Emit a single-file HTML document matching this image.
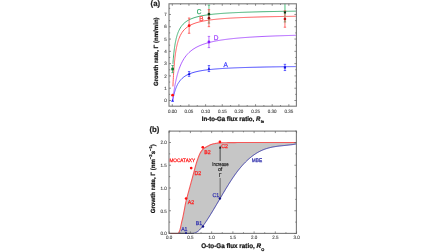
<!DOCTYPE html>
<html><head><meta charset="utf-8"><style>
html,body{margin:0;padding:0;background:#fff;width:448px;height:252px;overflow:hidden}
svg{display:block;font-family:"Liberation Sans",Arial,sans-serif;text-rendering:geometricPrecision}
</style></head><body>
<svg width="448" height="252" viewBox="0 0 448 252">
<rect width="448" height="252" fill="#fff"/>
<defs><clipPath id="ca"><rect x="169.0" y="3.8" width="127.39999999999998" height="102.4"/></clipPath><clipPath id="cb"><rect x="169.0" y="131.1" width="127.39999999999998" height="102.30000000000001"/></clipPath></defs>
<g clip-path="url(#ca)">
<polyline points="172.60,100.50 172.71,100.01 172.82,99.48 172.94,98.95 173.05,98.42 173.16,97.90 173.27,97.39 173.38,96.88 173.50,96.39 173.61,95.91 173.72,95.43 173.83,94.97 173.94,94.52 174.06,94.08 174.17,93.65 174.28,93.23 174.39,92.82 174.50,92.42 174.62,92.03 174.73,91.65 174.84,91.28 174.95,90.92 175.06,90.57 175.18,90.22 175.29,89.89 175.40,89.56 175.51,89.24 175.62,88.92 175.74,88.62 175.85,88.32 175.96,88.03 176.07,87.74 176.18,87.46 176.30,87.19 176.41,86.92 176.52,86.66 176.63,86.40 176.74,86.15 176.86,85.91 176.97,85.67 177.08,85.44 177.19,85.21 177.30,84.98 177.42,84.76 177.53,84.55 177.64,84.33 177.75,84.13 177.86,83.92 177.98,83.73 178.09,83.53 178.20,83.34 178.31,83.15 178.42,82.97 178.54,82.79 178.65,82.61 178.76,82.44 178.87,82.27 178.98,82.10 179.10,81.93 179.21,81.77 179.21,81.77 180.19,80.47 181.18,79.35 182.16,78.37 183.15,77.52 184.14,76.76 185.12,76.09 186.11,75.49 187.09,74.95 188.08,74.46 189.06,74.02 190.05,73.62 191.04,73.25 192.02,72.91 193.01,72.59 193.99,72.31 194.98,72.04 195.96,71.79 196.95,71.56 197.94,71.34 198.92,71.14 199.91,70.95 200.89,70.77 201.88,70.60 202.86,70.44 203.85,70.29 204.83,70.15 205.82,70.02 206.81,69.89 207.79,69.77 208.78,69.66 209.76,69.55 210.75,69.44 211.73,69.35 212.72,69.25 213.71,69.16 214.69,69.07 215.68,68.99 216.66,68.91 217.65,68.83 218.63,68.76 219.62,68.69 220.61,68.62 221.59,68.56 222.58,68.50 223.56,68.44 224.55,68.38 225.53,68.32 226.52,68.27 227.50,68.21 228.49,68.16 229.48,68.12 230.46,68.07 231.45,68.02 232.43,67.98 233.42,67.93 234.40,67.89 235.39,67.85 236.38,67.81 237.36,67.78 238.35,67.74 239.33,67.70 240.32,67.67 241.30,67.63 242.29,67.60 243.28,67.57 244.26,67.54 245.25,67.51 246.23,67.48 247.22,67.45 248.20,67.42 249.19,67.39 250.17,67.37 251.16,67.34 252.15,67.31 253.13,67.29 254.12,67.26 255.10,67.24 256.09,67.22 257.07,67.20 258.06,67.17 259.05,67.15 260.03,67.13 261.02,67.11 262.00,67.09 262.99,67.07 263.97,67.05 264.96,67.03 265.94,67.01 266.93,66.99 267.92,66.98 268.90,66.96 269.89,66.94 270.87,66.93 271.86,66.91 272.84,66.89 273.83,66.88 274.82,66.86 275.80,66.85 276.79,66.83 277.77,66.82 278.76,66.80 279.74,66.79 280.73,66.77 281.72,66.76 282.70,66.75 283.69,66.73 284.67,66.72 285.66,66.71 286.64,66.70 287.63,66.68 288.61,66.67 289.60,66.66 290.59,66.65 291.57,66.64 292.56,66.63 293.54,66.61 294.53,66.60 295.51,66.59 295.90,66.58" fill="none" stroke="#3c3cff" stroke-width="0.9"/>
<polyline points="172.60,100.50 172.71,99.82 172.82,99.06 172.94,98.29 173.05,97.50 173.16,96.72 173.27,95.94 173.38,95.17 173.50,94.41 173.61,93.65 173.72,92.91 173.83,92.18 173.94,91.45 174.06,90.75 174.17,90.05 174.28,89.36 174.39,88.69 174.50,88.03 174.62,87.38 174.73,86.74 174.84,86.11 174.95,85.50 175.06,84.89 175.18,84.30 175.29,83.72 175.40,83.14 175.51,82.58 175.62,82.03 175.74,81.49 175.85,80.96 175.96,80.44 176.07,79.93 176.18,79.42 176.30,78.93 176.41,78.45 176.52,77.97 176.63,77.50 176.74,77.04 176.86,76.59 176.97,76.15 177.08,75.71 177.19,75.29 177.30,74.87 177.42,74.45 177.53,74.05 177.64,73.65 177.75,73.25 177.86,72.87 177.98,72.49 178.09,72.12 178.20,71.75 178.31,71.39 178.42,71.03 178.54,70.68 178.65,70.34 178.76,70.00 178.87,69.67 178.98,69.34 179.10,69.02 179.21,68.70 179.21,68.70 180.19,66.11 181.18,63.84 182.16,61.83 183.15,60.05 184.14,58.45 185.12,57.02 186.11,55.73 187.09,54.56 188.08,53.49 189.06,52.52 190.05,51.62 191.04,50.80 192.02,50.04 193.01,49.34 193.99,48.69 194.98,48.08 195.96,47.51 196.95,46.99 197.94,46.49 198.92,46.03 199.91,45.59 200.89,45.18 201.88,44.79 202.86,44.43 203.85,44.08 204.83,43.75 205.82,43.44 206.81,43.14 207.79,42.86 208.78,42.59 209.76,42.34 210.75,42.10 211.73,41.86 212.72,41.64 213.71,41.43 214.69,41.23 215.68,41.03 216.66,40.84 217.65,40.66 218.63,40.49 219.62,40.32 220.61,40.16 221.59,40.01 222.58,39.86 223.56,39.72 224.55,39.58 225.53,39.45 226.52,39.32 227.50,39.19 228.49,39.07 229.48,38.96 230.46,38.85 231.45,38.74 232.43,38.63 233.42,38.53 234.40,38.43 235.39,38.33 236.38,38.24 237.36,38.15 238.35,38.06 239.33,37.97 240.32,37.89 241.30,37.81 242.29,37.73 243.28,37.65 244.26,37.58 245.25,37.51 246.23,37.44 247.22,37.37 248.20,37.30 249.19,37.23 250.17,37.17 251.16,37.11 252.15,37.05 253.13,36.99 254.12,36.93 255.10,36.87 256.09,36.82 257.07,36.76 258.06,36.71 259.05,36.66 260.03,36.61 261.02,36.56 262.00,36.51 262.99,36.46 263.97,36.41 264.96,36.37 265.94,36.32 266.93,36.28 267.92,36.24 268.90,36.20 269.89,36.16 270.87,36.11 271.86,36.08 272.84,36.04 273.83,36.00 274.82,35.96 275.80,35.92 276.79,35.89 277.77,35.85 278.76,35.82 279.74,35.79 280.73,35.75 281.72,35.72 282.70,35.69 283.69,35.66 284.67,35.62 285.66,35.59 286.64,35.56 287.63,35.54 288.61,35.51 289.60,35.48 290.59,35.45 291.57,35.42 292.56,35.40 293.54,35.37 294.53,35.34 295.51,35.32 295.90,35.29" fill="none" stroke="#a64dff" stroke-width="0.9"/>
<polyline points="172.93,86.42 173.04,83.98 173.14,81.70 173.25,79.57 173.36,77.57 173.46,75.68 173.57,73.91 173.68,72.24 173.78,70.65 173.89,69.16 173.99,67.74 174.10,66.39 174.21,65.11 174.31,63.89 174.42,62.73 174.53,61.62 174.63,60.56 174.74,59.55 174.85,58.58 174.95,57.65 175.06,56.76 175.16,55.91 175.27,55.09 175.38,54.30 175.48,53.55 175.59,52.82 175.70,52.11 175.80,51.44 175.91,50.78 176.02,50.15 176.12,49.54 176.23,48.96 176.34,48.39 176.44,47.84 176.55,47.30 176.65,46.79 176.76,46.29 176.87,45.80 176.97,45.33 177.08,44.88 177.19,44.43 177.29,44.00 177.40,43.58 177.51,43.18 177.61,42.78 177.72,42.40 177.82,42.02 177.93,41.66 178.04,41.31 178.14,40.96 178.25,40.62 178.36,40.30 178.46,39.98 178.57,39.66 178.68,39.36 178.78,39.06 178.89,38.77 179.00,38.49 179.10,38.21 179.21,37.94 179.21,37.94 180.19,35.70 181.18,33.85 182.16,32.30 183.15,30.98 184.14,29.84 185.12,28.85 186.11,27.98 187.09,27.21 188.08,26.52 189.06,25.91 190.05,25.35 191.04,24.85 192.02,24.39 193.01,23.97 193.99,23.58 194.98,23.23 195.96,22.90 196.95,22.59 197.94,22.31 198.92,22.05 199.91,21.80 200.89,21.57 201.88,21.35 202.86,21.15 203.85,20.96 204.83,20.78 205.82,20.61 206.81,20.44 207.79,20.29 208.78,20.15 209.76,20.01 210.75,19.87 211.73,19.75 212.72,19.63 213.71,19.51 214.69,19.41 215.68,19.30 216.66,19.20 217.65,19.10 218.63,19.01 219.62,18.92 220.61,18.84 221.59,18.76 222.58,18.68 223.56,18.60 224.55,18.53 225.53,18.46 226.52,18.39 227.50,18.32 228.49,18.26 229.48,18.20 230.46,18.14 231.45,18.08 232.43,18.03 233.42,17.97 234.40,17.92 235.39,17.87 236.38,17.82 237.36,17.77 238.35,17.73 239.33,17.68 240.32,17.64 241.30,17.59 242.29,17.55 243.28,17.51 244.26,17.47 245.25,17.43 246.23,17.40 247.22,17.36 248.20,17.32 249.19,17.29 250.17,17.26 251.16,17.22 252.15,17.19 253.13,17.16 254.12,17.13 255.10,17.10 256.09,17.07 257.07,17.04 258.06,17.01 259.05,16.99 260.03,16.96 261.02,16.93 262.00,16.91 262.99,16.88 263.97,16.86 264.96,16.83 265.94,16.81 266.93,16.79 267.92,16.77 268.90,16.74 269.89,16.72 270.87,16.70 271.86,16.68 272.84,16.66 273.83,16.64 274.82,16.62 275.80,16.60 276.79,16.58 277.77,16.56 278.76,16.54 279.74,16.53 280.73,16.51 281.72,16.49 282.70,16.47 283.69,16.46 284.67,16.44 285.66,16.42 286.64,16.41 287.63,16.39 288.61,16.38 289.60,16.36 290.59,16.35 291.57,16.33 292.56,16.32 293.54,16.30 294.53,16.29 295.51,16.28 295.90,16.26" fill="none" stroke="#ff4848" stroke-width="0.9"/>
<polyline points="172.93,63.82 173.04,62.33 173.14,60.92 173.25,59.58 173.36,58.31 173.46,57.10 173.57,55.96 173.68,54.86 173.78,53.82 173.89,52.82 173.99,51.87 174.10,50.96 174.21,50.08 174.31,49.24 174.42,48.44 174.53,47.67 174.63,46.93 174.74,46.21 174.85,45.53 174.95,44.87 175.06,44.23 175.16,43.61 175.27,43.02 175.38,42.45 175.48,41.89 175.59,41.36 175.70,40.84 175.80,40.34 175.91,39.85 176.02,39.38 176.12,38.93 176.23,38.48 176.34,38.06 176.44,37.64 176.55,37.23 176.65,36.84 176.76,36.46 176.87,36.09 176.97,35.73 177.08,35.37 177.19,35.03 177.29,34.70 177.40,34.37 177.51,34.06 177.61,33.75 177.72,33.45 177.82,33.15 177.93,32.87 178.04,32.59 178.14,32.31 178.25,32.05 178.36,31.79 178.46,31.53 178.57,31.28 178.68,31.04 178.78,30.80 178.89,30.57 179.00,30.34 179.10,30.12 179.21,29.90 179.21,29.90 180.19,28.09 181.18,26.57 182.16,25.28 183.15,24.17 184.14,23.21 185.12,22.36 186.11,21.62 187.09,20.95 188.08,20.36 189.06,19.82 190.05,19.34 191.04,18.90 192.02,18.50 193.01,18.13 193.99,17.79 194.98,17.47 195.96,17.18 196.95,16.91 197.94,16.66 198.92,16.42 199.91,16.20 200.89,16.00 201.88,15.80 202.86,15.62 203.85,15.45 204.83,15.28 205.82,15.13 206.81,14.98 207.79,14.85 208.78,14.71 209.76,14.59 210.75,14.47 211.73,14.36 212.72,14.25 213.71,14.14 214.69,14.04 215.68,13.95 216.66,13.86 217.65,13.77 218.63,13.69 219.62,13.60 220.61,13.53 221.59,13.45 222.58,13.38 223.56,13.31 224.55,13.24 225.53,13.18 226.52,13.12 227.50,13.06 228.49,13.00 229.48,12.94 230.46,12.89 231.45,12.84 232.43,12.78 233.42,12.74 234.40,12.69 235.39,12.64 236.38,12.60 237.36,12.55 238.35,12.51 239.33,12.47 240.32,12.43 241.30,12.39 242.29,12.35 243.28,12.31 244.26,12.28 245.25,12.24 246.23,12.21 247.22,12.17 248.20,12.14 249.19,12.11 250.17,12.08 251.16,12.05 252.15,12.02 253.13,11.99 254.12,11.96 255.10,11.93 256.09,11.91 257.07,11.88 258.06,11.85 259.05,11.83 260.03,11.80 261.02,11.78 262.00,11.76 262.99,11.73 263.97,11.71 264.96,11.69 265.94,11.67 266.93,11.64 267.92,11.62 268.90,11.60 269.89,11.58 270.87,11.56 271.86,11.54 272.84,11.53 273.83,11.51 274.82,11.49 275.80,11.47 276.79,11.45 277.77,11.44 278.76,11.42 279.74,11.40 280.73,11.39 281.72,11.37 282.70,11.35 283.69,11.34 284.67,11.32 285.66,11.31 286.64,11.29 287.63,11.28 288.61,11.27 289.60,11.25 290.59,11.24 291.57,11.22 292.56,11.21 293.54,11.20 294.53,11.18 295.51,11.17 295.90,11.16" fill="none" stroke="#2fa866" stroke-width="0.9"/>
<line x1="189.12" y1="71.55" x2="189.12" y2="76.35" stroke="#3c3cff" stroke-width="0.8"/>
<line x1="187.92" y1="71.55" x2="190.32" y2="71.55" stroke="#3c3cff" stroke-width="0.8"/>
<line x1="187.92" y1="76.35" x2="190.32" y2="76.35" stroke="#3c3cff" stroke-width="0.8"/>
<line x1="208.94" y1="65.55" x2="208.94" y2="71.55" stroke="#3c3cff" stroke-width="0.8"/>
<line x1="207.74" y1="65.55" x2="210.14" y2="65.55" stroke="#3c3cff" stroke-width="0.8"/>
<line x1="207.74" y1="71.55" x2="210.14" y2="71.55" stroke="#3c3cff" stroke-width="0.8"/>
<line x1="284.94" y1="64.34" x2="284.94" y2="70.54" stroke="#3c3cff" stroke-width="0.8"/>
<line x1="283.74" y1="64.34" x2="286.14" y2="64.34" stroke="#3c3cff" stroke-width="0.8"/>
<line x1="283.74" y1="70.54" x2="286.14" y2="70.54" stroke="#3c3cff" stroke-width="0.8"/>
<line x1="208.94" y1="36.40" x2="208.94" y2="47.60" stroke="#a64dff" stroke-width="0.8"/>
<line x1="207.74" y1="36.40" x2="210.14" y2="36.40" stroke="#a64dff" stroke-width="0.8"/>
<line x1="207.74" y1="47.60" x2="210.14" y2="47.60" stroke="#a64dff" stroke-width="0.8"/>
<line x1="172.60" y1="65.44" x2="172.60" y2="72.64" stroke="#2fa866" stroke-width="0.8"/>
<line x1="171.40" y1="65.44" x2="173.80" y2="65.44" stroke="#2fa866" stroke-width="0.8"/>
<line x1="171.40" y1="72.64" x2="173.80" y2="72.64" stroke="#2fa866" stroke-width="0.8"/>
<line x1="208.94" y1="5.10" x2="208.94" y2="23.10" stroke="#7fcf9f" stroke-width="1.2"/>
<line x1="207.74" y1="5.10" x2="210.14" y2="5.10" stroke="#2fa866" stroke-width="0.8"/>
<line x1="207.74" y1="23.10" x2="210.14" y2="23.10" stroke="#2fa866" stroke-width="0.8"/>
<line x1="284.94" y1="2.78" x2="284.94" y2="21.98" stroke="#8fd8ae" stroke-width="1.6"/>
<line x1="283.74" y1="2.78" x2="286.14" y2="2.78" stroke="#2fa866" stroke-width="0.8"/>
<line x1="283.74" y1="21.98" x2="286.14" y2="21.98" stroke="#2fa866" stroke-width="0.8"/>
<line x1="189.12" y1="18.05" x2="189.12" y2="33.25" stroke="#ff4848" stroke-width="0.8"/>
<line x1="187.92" y1="18.05" x2="190.32" y2="18.05" stroke="#ff4848" stroke-width="0.8"/>
<line x1="187.92" y1="33.25" x2="190.32" y2="33.25" stroke="#ff4848" stroke-width="0.8"/>
<line x1="208.94" y1="9.66" x2="208.94" y2="26.66" stroke="#ff4848" stroke-width="0.8"/>
<line x1="207.74" y1="9.66" x2="210.14" y2="9.66" stroke="#ff4848" stroke-width="0.8"/>
<line x1="207.74" y1="26.66" x2="210.14" y2="26.66" stroke="#ff4848" stroke-width="0.8"/>
<line x1="284.94" y1="10.82" x2="284.94" y2="27.22" stroke="#ff4848" stroke-width="0.8"/>
<line x1="283.74" y1="10.82" x2="286.14" y2="10.82" stroke="#ff4848" stroke-width="0.8"/>
<line x1="283.74" y1="27.22" x2="286.14" y2="27.22" stroke="#ff4848" stroke-width="0.8"/>
<polygon points="172.60,99.00 171.10,101.70 174.10,101.70" fill="#1a1aff"/>
<polygon points="189.12,72.55 187.72,75.07 190.52,75.07" fill="#1010e0"/>
<polygon points="208.94,67.15 207.54,69.67 210.34,69.67" fill="#1010e0"/>
<rect x="283.84" y="66.34" width="2.20" height="2.20" fill="#1010e0"/>
<circle cx="208.94" cy="42.00" r="1.4" fill="#8a1aff"/>
<circle cx="172.60" cy="95.22" r="1.4" fill="#ff1010"/>
<circle cx="189.12" cy="25.65" r="1.4" fill="#ff1010"/>
<circle cx="208.94" cy="18.16" r="1.3" fill="#8a1010"/>
<circle cx="284.94" cy="19.02" r="1.3" fill="#c01010"/>
<rect x="171.30" y="67.74" width="2.60" height="2.60" fill="#0f7a30"/>
<rect x="207.74" y="12.90" width="2.40" height="2.40" fill="#0b3d18"/>
<rect x="283.84" y="11.28" width="2.20" height="2.20" fill="#0b3d18"/>
</g>
<rect x="169.0" y="3.8" width="127.39999999999998" height="102.4" fill="none" stroke="#7a7a7a" stroke-width="1.1"/>
<line x1="172.30" y1="106.2" x2="172.30" y2="104.20" stroke="#606060" stroke-width="0.7"/>
<line x1="172.30" y1="3.8" x2="172.30" y2="5.80" stroke="#606060" stroke-width="0.7"/>
<line x1="180.62" y1="106.2" x2="180.62" y2="105.00" stroke="#606060" stroke-width="0.7"/>
<line x1="180.62" y1="3.8" x2="180.62" y2="5.00" stroke="#606060" stroke-width="0.7"/>
<line x1="188.95" y1="106.2" x2="188.95" y2="104.20" stroke="#606060" stroke-width="0.7"/>
<line x1="188.95" y1="3.8" x2="188.95" y2="5.80" stroke="#606060" stroke-width="0.7"/>
<line x1="197.28" y1="106.2" x2="197.28" y2="105.00" stroke="#606060" stroke-width="0.7"/>
<line x1="197.28" y1="3.8" x2="197.28" y2="5.00" stroke="#606060" stroke-width="0.7"/>
<line x1="205.60" y1="106.2" x2="205.60" y2="104.20" stroke="#606060" stroke-width="0.7"/>
<line x1="205.60" y1="3.8" x2="205.60" y2="5.80" stroke="#606060" stroke-width="0.7"/>
<line x1="213.93" y1="106.2" x2="213.93" y2="105.00" stroke="#606060" stroke-width="0.7"/>
<line x1="213.93" y1="3.8" x2="213.93" y2="5.00" stroke="#606060" stroke-width="0.7"/>
<line x1="222.25" y1="106.2" x2="222.25" y2="104.20" stroke="#606060" stroke-width="0.7"/>
<line x1="222.25" y1="3.8" x2="222.25" y2="5.80" stroke="#606060" stroke-width="0.7"/>
<line x1="230.58" y1="106.2" x2="230.58" y2="105.00" stroke="#606060" stroke-width="0.7"/>
<line x1="230.58" y1="3.8" x2="230.58" y2="5.00" stroke="#606060" stroke-width="0.7"/>
<line x1="238.90" y1="106.2" x2="238.90" y2="104.20" stroke="#606060" stroke-width="0.7"/>
<line x1="238.90" y1="3.8" x2="238.90" y2="5.80" stroke="#606060" stroke-width="0.7"/>
<line x1="247.23" y1="106.2" x2="247.23" y2="105.00" stroke="#606060" stroke-width="0.7"/>
<line x1="247.23" y1="3.8" x2="247.23" y2="5.00" stroke="#606060" stroke-width="0.7"/>
<line x1="255.55" y1="106.2" x2="255.55" y2="104.20" stroke="#606060" stroke-width="0.7"/>
<line x1="255.55" y1="3.8" x2="255.55" y2="5.80" stroke="#606060" stroke-width="0.7"/>
<line x1="263.88" y1="106.2" x2="263.88" y2="105.00" stroke="#606060" stroke-width="0.7"/>
<line x1="263.88" y1="3.8" x2="263.88" y2="5.00" stroke="#606060" stroke-width="0.7"/>
<line x1="272.20" y1="106.2" x2="272.20" y2="104.20" stroke="#606060" stroke-width="0.7"/>
<line x1="272.20" y1="3.8" x2="272.20" y2="5.80" stroke="#606060" stroke-width="0.7"/>
<line x1="280.53" y1="106.2" x2="280.53" y2="105.00" stroke="#606060" stroke-width="0.7"/>
<line x1="280.53" y1="3.8" x2="280.53" y2="5.00" stroke="#606060" stroke-width="0.7"/>
<line x1="288.85" y1="106.2" x2="288.85" y2="104.20" stroke="#606060" stroke-width="0.7"/>
<line x1="288.85" y1="3.8" x2="288.85" y2="5.80" stroke="#606060" stroke-width="0.7"/>
<line x1="169.0" y1="100.50" x2="171.00" y2="100.50" stroke="#606060" stroke-width="0.7"/>
<line x1="296.4" y1="100.50" x2="294.40" y2="100.50" stroke="#606060" stroke-width="0.7"/>
<line x1="169.0" y1="94.36" x2="170.20" y2="94.36" stroke="#606060" stroke-width="0.7"/>
<line x1="296.4" y1="94.36" x2="295.20" y2="94.36" stroke="#606060" stroke-width="0.7"/>
<line x1="169.0" y1="88.21" x2="171.00" y2="88.21" stroke="#606060" stroke-width="0.7"/>
<line x1="296.4" y1="88.21" x2="294.40" y2="88.21" stroke="#606060" stroke-width="0.7"/>
<line x1="169.0" y1="82.06" x2="170.20" y2="82.06" stroke="#606060" stroke-width="0.7"/>
<line x1="296.4" y1="82.06" x2="295.20" y2="82.06" stroke="#606060" stroke-width="0.7"/>
<line x1="169.0" y1="75.92" x2="171.00" y2="75.92" stroke="#606060" stroke-width="0.7"/>
<line x1="296.4" y1="75.92" x2="294.40" y2="75.92" stroke="#606060" stroke-width="0.7"/>
<line x1="169.0" y1="69.78" x2="170.20" y2="69.78" stroke="#606060" stroke-width="0.7"/>
<line x1="296.4" y1="69.78" x2="295.20" y2="69.78" stroke="#606060" stroke-width="0.7"/>
<line x1="169.0" y1="63.63" x2="171.00" y2="63.63" stroke="#606060" stroke-width="0.7"/>
<line x1="296.4" y1="63.63" x2="294.40" y2="63.63" stroke="#606060" stroke-width="0.7"/>
<line x1="169.0" y1="57.48" x2="170.20" y2="57.48" stroke="#606060" stroke-width="0.7"/>
<line x1="296.4" y1="57.48" x2="295.20" y2="57.48" stroke="#606060" stroke-width="0.7"/>
<line x1="169.0" y1="51.34" x2="171.00" y2="51.34" stroke="#606060" stroke-width="0.7"/>
<line x1="296.4" y1="51.34" x2="294.40" y2="51.34" stroke="#606060" stroke-width="0.7"/>
<line x1="169.0" y1="45.20" x2="170.20" y2="45.20" stroke="#606060" stroke-width="0.7"/>
<line x1="296.4" y1="45.20" x2="295.20" y2="45.20" stroke="#606060" stroke-width="0.7"/>
<line x1="169.0" y1="39.05" x2="171.00" y2="39.05" stroke="#606060" stroke-width="0.7"/>
<line x1="296.4" y1="39.05" x2="294.40" y2="39.05" stroke="#606060" stroke-width="0.7"/>
<line x1="169.0" y1="32.91" x2="170.20" y2="32.91" stroke="#606060" stroke-width="0.7"/>
<line x1="296.4" y1="32.91" x2="295.20" y2="32.91" stroke="#606060" stroke-width="0.7"/>
<line x1="169.0" y1="26.76" x2="171.00" y2="26.76" stroke="#606060" stroke-width="0.7"/>
<line x1="296.4" y1="26.76" x2="294.40" y2="26.76" stroke="#606060" stroke-width="0.7"/>
<line x1="169.0" y1="20.62" x2="170.20" y2="20.62" stroke="#606060" stroke-width="0.7"/>
<line x1="296.4" y1="20.62" x2="295.20" y2="20.62" stroke="#606060" stroke-width="0.7"/>
<line x1="169.0" y1="14.47" x2="171.00" y2="14.47" stroke="#606060" stroke-width="0.7"/>
<line x1="296.4" y1="14.47" x2="294.40" y2="14.47" stroke="#606060" stroke-width="0.7"/>
<line x1="169.0" y1="8.33" x2="170.20" y2="8.33" stroke="#606060" stroke-width="0.7"/>
<line x1="296.4" y1="8.33" x2="295.20" y2="8.33" stroke="#606060" stroke-width="0.7"/>
<text transform="translate(172.30 112.9) scale(1 1.06)" x="0" y="0" font-size="4.5" text-anchor="middle" fill="#444" stroke="#444" stroke-width="0.1">0.00</text>
<text transform="translate(188.95 112.9) scale(1 1.06)" x="0" y="0" font-size="4.5" text-anchor="middle" fill="#444" stroke="#444" stroke-width="0.1">0.05</text>
<text transform="translate(205.60 112.9) scale(1 1.06)" x="0" y="0" font-size="4.5" text-anchor="middle" fill="#444" stroke="#444" stroke-width="0.1">0.10</text>
<text transform="translate(222.25 112.9) scale(1 1.06)" x="0" y="0" font-size="4.5" text-anchor="middle" fill="#444" stroke="#444" stroke-width="0.1">0.15</text>
<text transform="translate(238.90 112.9) scale(1 1.06)" x="0" y="0" font-size="4.5" text-anchor="middle" fill="#444" stroke="#444" stroke-width="0.1">0.20</text>
<text transform="translate(255.55 112.9) scale(1 1.06)" x="0" y="0" font-size="4.5" text-anchor="middle" fill="#444" stroke="#444" stroke-width="0.1">0.25</text>
<text transform="translate(272.20 112.9) scale(1 1.06)" x="0" y="0" font-size="4.5" text-anchor="middle" fill="#444" stroke="#444" stroke-width="0.1">0.30</text>
<text transform="translate(288.85 112.9) scale(1 1.06)" x="0" y="0" font-size="4.5" text-anchor="middle" fill="#444" stroke="#444" stroke-width="0.1">0.35</text>
<text transform="translate(165.6 102.20) scale(1 1.06)" x="0" y="0" font-size="4.5" text-anchor="middle" fill="#444" stroke="#444" stroke-width="0.1">0</text>
<text transform="translate(165.6 89.91) scale(1 1.06)" x="0" y="0" font-size="4.5" text-anchor="middle" fill="#444" stroke="#444" stroke-width="0.1">1</text>
<text transform="translate(165.6 77.62) scale(1 1.06)" x="0" y="0" font-size="4.5" text-anchor="middle" fill="#444" stroke="#444" stroke-width="0.1">2</text>
<text transform="translate(165.6 65.33) scale(1 1.06)" x="0" y="0" font-size="4.5" text-anchor="middle" fill="#444" stroke="#444" stroke-width="0.1">3</text>
<text transform="translate(165.6 53.04) scale(1 1.06)" x="0" y="0" font-size="4.5" text-anchor="middle" fill="#444" stroke="#444" stroke-width="0.1">4</text>
<text transform="translate(165.6 40.75) scale(1 1.06)" x="0" y="0" font-size="4.5" text-anchor="middle" fill="#444" stroke="#444" stroke-width="0.1">5</text>
<text transform="translate(165.6 28.46) scale(1 1.06)" x="0" y="0" font-size="4.5" text-anchor="middle" fill="#444" stroke="#444" stroke-width="0.1">6</text>
<text transform="translate(165.6 16.17) scale(1 1.06)" x="0" y="0" font-size="4.5" text-anchor="middle" fill="#444" stroke="#444" stroke-width="0.1">7</text>
<text transform="translate(199 14) scale(1 1.06)" x="0" y="0" font-size="6.5" text-anchor="middle" fill="#2fa866" stroke="#2fa866" stroke-width="0.24">C</text>
<text transform="translate(201.3 20.5) scale(1 1.06)" x="0" y="0" font-size="6.5" text-anchor="middle" fill="#ff4848" stroke="#ff4848" stroke-width="0.24">B</text>
<text transform="translate(216.1 39.6) scale(1 1.06)" x="0" y="0" font-size="6.5" text-anchor="middle" fill="#a64dff" stroke="#a64dff" stroke-width="0.24">D</text>
<text transform="translate(225.6 67.3) scale(1 1.06)" x="0" y="0" font-size="6.5" text-anchor="middle" fill="#3c3cff" stroke="#3c3cff" stroke-width="0.24">A</text>
<text  x="150.6" y="6.4" font-size="7.8" font-weight="bold" fill="#222" stroke="#222" stroke-width="0.2">(a)</text>
<text transform="translate(201.8 121) scale(1 1.06)" x="0" y="0" font-size="6.1" font-weight="bold" fill="#111" stroke="#111" stroke-width="0.22">In-to-Ga flux ratio, <tspan font-style="italic">R</tspan><tspan font-size="3.9" dy="1.9" dx="0.3">In</tspan></text>
<text transform="translate(157.6,51.7) rotate(-90)" font-size="6.1" font-weight="bold" text-anchor="middle" fill="#111" stroke="#111" stroke-width="0.22">Growth rate, Γ (nm/min)</text>
<g clip-path="url(#cb)">
<polygon points="169.20,233.50 169.65,233.54 170.23,233.64 170.92,233.79 171.70,233.96 172.54,234.12 173.42,234.27 174.31,234.37 175.19,234.41 176.04,234.36 176.82,234.21 177.52,233.93 178.11,233.50 178.62,232.90 179.06,232.15 179.46,231.27 179.82,230.27 180.14,229.20 180.43,228.06 180.70,226.88 180.96,225.68 181.20,224.50 181.44,223.34 181.68,222.24 181.94,221.22 182.19,220.24 182.42,219.26 182.64,218.30 182.85,217.33 183.05,216.38 183.25,215.43 183.43,214.49 183.61,213.57 183.79,212.66 183.96,211.76 184.14,210.88 184.31,210.02 184.47,209.22 184.61,208.50 184.73,207.84 184.83,207.21 184.94,206.60 185.04,205.98 185.16,205.32 185.30,204.61 185.46,203.82 185.66,202.93 185.90,201.91 186.18,200.74 186.52,199.41 186.90,197.94 187.32,196.34 187.77,194.64 188.25,192.87 188.75,191.03 189.26,189.16 189.78,187.28 190.29,185.39 190.81,183.54 191.30,181.73 191.78,179.99 192.25,178.27 192.73,176.50 193.20,174.71 193.68,172.91 194.15,171.11 194.63,169.33 195.10,167.59 195.57,165.91 196.03,164.29 196.49,162.76 196.94,161.33 197.39,160.02 197.81,158.82 198.22,157.71 198.60,156.69 198.98,155.75 199.35,154.88 199.72,154.07 200.10,153.31 200.49,152.60 200.90,151.92 201.34,151.27 201.81,150.63 202.31,150.01 202.86,149.41 203.45,148.86 204.07,148.34 204.72,147.87 205.39,147.44 206.07,147.03 206.75,146.65 207.43,146.30 208.10,145.98 208.75,145.67 209.37,145.37 209.95,145.09 210.50,144.84 211.01,144.61 211.50,144.42 211.96,144.26 212.42,144.11 212.87,143.99 213.32,143.88 213.79,143.78 214.27,143.68 214.78,143.60 215.32,143.50 215.89,143.41 216.45,143.32 216.92,143.23 217.34,143.16 217.75,143.09 218.18,143.03 218.65,142.98 219.21,142.93 219.89,142.88 220.71,142.84 221.71,142.80 222.93,142.77 224.38,142.73 226.08,142.69 227.96,142.66 230.02,142.63 232.25,142.61 234.62,142.59 237.12,142.57 239.74,142.56 242.47,142.54 245.28,142.53 248.16,142.52 251.11,142.51 254.10,142.50 257.33,142.49 260.93,142.49 264.81,142.48 268.88,142.48 273.03,142.48 277.18,142.49 281.23,142.49 285.07,142.49 288.62,142.49 291.78,142.50 294.46,142.50 296.55,142.50 297.00,143.80 296.50,143.90 296.00,144.00 295.50,144.09 295.00,144.18 294.50,144.26 294.00,144.35 293.50,144.42 293.00,144.50 292.50,144.57 292.00,144.64 291.50,144.71 291.00,144.78 290.50,144.84 290.00,144.90 289.50,144.96 289.00,145.02 288.50,145.07 288.00,145.13 287.50,145.18 287.00,145.23 286.50,145.29 286.00,145.34 285.50,145.39 285.00,145.44 284.50,145.49 284.00,145.54 283.50,145.59 283.00,145.64 282.50,145.69 282.00,145.75 281.50,145.80 281.00,145.85 280.50,145.91 280.00,145.96 279.50,146.02 279.00,146.08 278.50,146.14 278.00,146.21 277.50,146.27 277.00,146.34 276.50,146.41 276.00,146.48 275.50,146.56 275.00,146.64 274.50,146.72 274.00,146.81 273.50,146.90 273.00,146.99 272.50,147.09 272.00,147.19 271.50,147.29 271.00,147.40 270.50,147.51 270.00,147.63 269.50,147.75 269.00,147.88 268.50,148.02 268.00,148.15 267.50,148.30 267.00,148.45 266.50,148.60 266.00,148.77 265.50,148.93 265.00,149.11 264.50,149.29 264.00,149.47 263.50,149.67 263.00,149.87 262.50,150.08 262.00,150.29 261.50,150.52 261.00,150.75 260.50,150.98 260.00,151.23 259.50,151.49 259.00,151.75 258.50,152.02 258.00,152.30 257.50,152.59 257.00,152.88 256.50,153.19 256.00,153.50 255.50,153.82 255.00,154.15 254.50,154.49 254.00,154.83 253.50,155.19 253.00,155.55 252.50,155.92 252.00,156.30 251.50,156.69 251.00,157.09 250.50,157.50 250.00,157.92 249.50,158.34 249.00,158.78 248.50,159.22 248.00,159.67 247.50,160.13 247.00,160.60 246.50,161.08 246.00,161.57 245.50,162.06 245.00,162.57 244.50,163.09 244.00,163.61 243.50,164.15 243.00,164.69 242.50,165.24 242.00,165.80 241.50,166.38 241.00,166.96 240.50,167.55 240.00,168.15 239.50,168.76 239.00,169.38 238.50,170.01 238.00,170.64 237.50,171.29 237.00,171.95 236.50,172.62 236.00,173.30 235.50,173.98 235.00,174.68 234.50,175.39 234.00,176.10 233.50,176.83 233.00,177.56 232.50,178.30 232.00,179.05 231.50,179.81 231.00,180.58 230.50,181.35 230.00,182.12 229.50,182.91 229.00,183.70 228.50,184.50 228.00,185.30 227.50,186.11 227.00,186.92 226.50,187.74 226.00,188.56 225.50,189.38 225.00,190.21 224.50,191.05 224.00,191.88 223.50,192.72 223.00,193.56 222.50,194.41 222.00,195.25 221.50,196.10 221.00,196.95 220.50,197.80 220.00,198.65 219.50,199.50 219.00,200.35 218.50,201.21 218.00,202.06 217.50,202.91 217.00,203.76 216.50,204.61 216.00,205.45 215.50,206.30 215.00,207.14 214.50,207.98 214.00,208.82 213.50,209.66 213.00,210.49 212.50,211.32 212.00,212.14 211.50,212.96 211.00,213.78 210.50,214.59 210.00,215.39 209.50,216.19 209.00,216.99 208.50,217.78 208.00,218.56 207.50,219.33 207.00,220.10 206.50,220.86 206.00,221.62 205.50,222.36 205.00,223.09 204.50,223.81 204.00,224.51 203.50,225.20 203.00,225.87 202.50,226.52 202.00,227.14 201.50,227.75 201.00,228.33 200.50,228.89 200.00,229.41 199.50,229.91 199.00,230.38 198.50,230.82 198.00,231.22 197.50,231.59 197.00,231.93 196.50,232.23 196.00,232.49 195.50,232.72 195.00,232.93 194.50,233.11 194.00,233.25 193.50,233.38 193.00,233.48 192.50,233.50 192.00,233.50 169.00,233.50" fill="#c6c6c6"/>
<polyline points="169.20,233.50 169.65,233.54 170.23,233.64 170.92,233.79 171.70,233.96 172.54,234.12 173.42,234.27 174.31,234.37 175.19,234.41 176.04,234.36 176.82,234.21 177.52,233.93 178.11,233.50 178.62,232.90 179.06,232.15 179.46,231.27 179.82,230.27 180.14,229.20 180.43,228.06 180.70,226.88 180.96,225.68 181.20,224.50 181.44,223.34 181.68,222.24 181.94,221.22 182.19,220.24 182.42,219.26 182.64,218.30 182.85,217.33 183.05,216.38 183.25,215.43 183.43,214.49 183.61,213.57 183.79,212.66 183.96,211.76 184.14,210.88 184.31,210.02 184.47,209.22 184.61,208.50 184.73,207.84 184.83,207.21 184.94,206.60 185.04,205.98 185.16,205.32 185.30,204.61 185.46,203.82 185.66,202.93 185.90,201.91 186.18,200.74 186.52,199.41 186.90,197.94 187.32,196.34 187.77,194.64 188.25,192.87 188.75,191.03 189.26,189.16 189.78,187.28 190.29,185.39 190.81,183.54 191.30,181.73 191.78,179.99 192.25,178.27 192.73,176.50 193.20,174.71 193.68,172.91 194.15,171.11 194.63,169.33 195.10,167.59 195.57,165.91 196.03,164.29 196.49,162.76 196.94,161.33 197.39,160.02 197.81,158.82 198.22,157.71 198.60,156.69 198.98,155.75 199.35,154.88 199.72,154.07 200.10,153.31 200.49,152.60 200.90,151.92 201.34,151.27 201.81,150.63 202.31,150.01 202.86,149.41 203.45,148.86 204.07,148.34 204.72,147.87 205.39,147.44 206.07,147.03 206.75,146.65 207.43,146.30 208.10,145.98 208.75,145.67 209.37,145.37 209.95,145.09 210.50,144.84 211.01,144.61 211.50,144.42 211.96,144.26 212.42,144.11 212.87,143.99 213.32,143.88 213.79,143.78 214.27,143.68 214.78,143.60 215.32,143.50 215.89,143.41 216.45,143.32 216.92,143.23 217.34,143.16 217.75,143.09 218.18,143.03 218.65,142.98 219.21,142.93 219.89,142.88 220.71,142.84 221.71,142.80 222.93,142.77 224.38,142.73 226.08,142.69 227.96,142.66 230.02,142.63 232.25,142.61 234.62,142.59 237.12,142.57 239.74,142.56 242.47,142.54 245.28,142.53 248.16,142.52 251.11,142.51 254.10,142.50 257.33,142.49 260.93,142.49 264.81,142.48 268.88,142.48 273.03,142.48 277.18,142.49 281.23,142.49 285.07,142.49 288.62,142.49 291.78,142.50 294.46,142.50 296.55,142.50" fill="none" stroke="#f45858" stroke-width="1.1"/>
<polyline points="169.00,233.50 192.00,233.50 192.50,233.50 193.00,233.48 193.50,233.38 194.00,233.25 194.50,233.11 195.00,232.93 195.50,232.72 196.00,232.49 196.50,232.23 197.00,231.93 197.50,231.59 198.00,231.22 198.50,230.82 199.00,230.38 199.50,229.91 200.00,229.41 200.50,228.89 201.00,228.33 201.50,227.75 202.00,227.14 202.50,226.52 203.00,225.87 203.50,225.20 204.00,224.51 204.50,223.81 205.00,223.09 205.50,222.36 206.00,221.62 206.50,220.86 207.00,220.10 207.50,219.33 208.00,218.56 208.50,217.78 209.00,216.99 209.50,216.19 210.00,215.39 210.50,214.59 211.00,213.78 211.50,212.96 212.00,212.14 212.50,211.32 213.00,210.49 213.50,209.66 214.00,208.82 214.50,207.98 215.00,207.14 215.50,206.30 216.00,205.45 216.50,204.61 217.00,203.76 217.50,202.91 218.00,202.06 218.50,201.21 219.00,200.35 219.50,199.50 220.00,198.65 220.50,197.80 221.00,196.95 221.50,196.10 222.00,195.25 222.50,194.41 223.00,193.56 223.50,192.72 224.00,191.88 224.50,191.05 225.00,190.21 225.50,189.38 226.00,188.56 226.50,187.74 227.00,186.92 227.50,186.11 228.00,185.30 228.50,184.50 229.00,183.70 229.50,182.91 230.00,182.12 230.50,181.35 231.00,180.58 231.50,179.81 232.00,179.05 232.50,178.30 233.00,177.56 233.50,176.83 234.00,176.10 234.50,175.39 235.00,174.68 235.50,173.98 236.00,173.30 236.50,172.62 237.00,171.95 237.50,171.29 238.00,170.64 238.50,170.01 239.00,169.38 239.50,168.76 240.00,168.15 240.50,167.55 241.00,166.96 241.50,166.38 242.00,165.80 242.50,165.24 243.00,164.69 243.50,164.15 244.00,163.61 244.50,163.09 245.00,162.57 245.50,162.06 246.00,161.57 246.50,161.08 247.00,160.60 247.50,160.13 248.00,159.67 248.50,159.22 249.00,158.78 249.50,158.34 250.00,157.92 250.50,157.50 251.00,157.09 251.50,156.69 252.00,156.30 252.50,155.92 253.00,155.55 253.50,155.19 254.00,154.83 254.50,154.49 255.00,154.15 255.50,153.82 256.00,153.50 256.50,153.19 257.00,152.88 257.50,152.59 258.00,152.30 258.50,152.02 259.00,151.75 259.50,151.49 260.00,151.23 260.50,150.98 261.00,150.75 261.50,150.52 262.00,150.29 262.50,150.08 263.00,149.87 263.50,149.67 264.00,149.47 264.50,149.29 265.00,149.11 265.50,148.93 266.00,148.77 266.50,148.60 267.00,148.45 267.50,148.30 268.00,148.15 268.50,148.02 269.00,147.88 269.50,147.75 270.00,147.63 270.50,147.51 271.00,147.40 271.50,147.29 272.00,147.19 272.50,147.09 273.00,146.99 273.50,146.90 274.00,146.81 274.50,146.72 275.00,146.64 275.50,146.56 276.00,146.48 276.50,146.41 277.00,146.34 277.50,146.27 278.00,146.21 278.50,146.14 279.00,146.08 279.50,146.02 280.00,145.96 280.50,145.91 281.00,145.85 281.50,145.80 282.00,145.75 282.50,145.69 283.00,145.64 283.50,145.59 284.00,145.54 284.50,145.49 285.00,145.44 285.50,145.39 286.00,145.34 286.50,145.29 287.00,145.23 287.50,145.18 288.00,145.13 288.50,145.07 289.00,145.02 289.50,144.96 290.00,144.90 290.50,144.84 291.00,144.78 291.50,144.71 292.00,144.64 292.50,144.57 293.00,144.50 293.50,144.42 294.00,144.35 294.50,144.26 295.00,144.18 295.50,144.09 296.00,144.00 296.50,143.90 297.00,143.80" fill="none" stroke="#2f2fa0" stroke-width="0.9"/>
</g>
<rect x="169.0" y="131.1" width="127.39999999999998" height="102.30000000000001" fill="none" stroke="#7a7a7a" stroke-width="1.1"/>
<line x1="169.0" y1="233.4" x2="178.3" y2="233.4" stroke="#704848" stroke-width="1.1"/>
<line x1="178.3" y1="233.4" x2="194" y2="233.4" stroke="#4c4c5c" stroke-width="1.1"/>
<line x1="169.20" y1="233.4" x2="169.20" y2="231.40" stroke="#606060" stroke-width="0.7"/>
<line x1="169.20" y1="131.1" x2="169.20" y2="133.10" stroke="#606060" stroke-width="0.7"/>
<line x1="179.81" y1="233.4" x2="179.81" y2="232.20" stroke="#606060" stroke-width="0.7"/>
<line x1="179.81" y1="131.1" x2="179.81" y2="132.30" stroke="#606060" stroke-width="0.7"/>
<line x1="190.42" y1="233.4" x2="190.42" y2="231.40" stroke="#606060" stroke-width="0.7"/>
<line x1="190.42" y1="131.1" x2="190.42" y2="133.10" stroke="#606060" stroke-width="0.7"/>
<line x1="201.04" y1="233.4" x2="201.04" y2="232.20" stroke="#606060" stroke-width="0.7"/>
<line x1="201.04" y1="131.1" x2="201.04" y2="132.30" stroke="#606060" stroke-width="0.7"/>
<line x1="211.65" y1="233.4" x2="211.65" y2="231.40" stroke="#606060" stroke-width="0.7"/>
<line x1="211.65" y1="131.1" x2="211.65" y2="133.10" stroke="#606060" stroke-width="0.7"/>
<line x1="222.26" y1="233.4" x2="222.26" y2="232.20" stroke="#606060" stroke-width="0.7"/>
<line x1="222.26" y1="131.1" x2="222.26" y2="132.30" stroke="#606060" stroke-width="0.7"/>
<line x1="232.88" y1="233.4" x2="232.88" y2="231.40" stroke="#606060" stroke-width="0.7"/>
<line x1="232.88" y1="131.1" x2="232.88" y2="133.10" stroke="#606060" stroke-width="0.7"/>
<line x1="243.49" y1="233.4" x2="243.49" y2="232.20" stroke="#606060" stroke-width="0.7"/>
<line x1="243.49" y1="131.1" x2="243.49" y2="132.30" stroke="#606060" stroke-width="0.7"/>
<line x1="254.10" y1="233.4" x2="254.10" y2="231.40" stroke="#606060" stroke-width="0.7"/>
<line x1="254.10" y1="131.1" x2="254.10" y2="133.10" stroke="#606060" stroke-width="0.7"/>
<line x1="264.71" y1="233.4" x2="264.71" y2="232.20" stroke="#606060" stroke-width="0.7"/>
<line x1="264.71" y1="131.1" x2="264.71" y2="132.30" stroke="#606060" stroke-width="0.7"/>
<line x1="275.32" y1="233.4" x2="275.32" y2="231.40" stroke="#606060" stroke-width="0.7"/>
<line x1="275.32" y1="131.1" x2="275.32" y2="133.10" stroke="#606060" stroke-width="0.7"/>
<line x1="285.94" y1="233.4" x2="285.94" y2="232.20" stroke="#606060" stroke-width="0.7"/>
<line x1="285.94" y1="131.1" x2="285.94" y2="132.30" stroke="#606060" stroke-width="0.7"/>
<line x1="296.55" y1="233.4" x2="296.55" y2="231.40" stroke="#606060" stroke-width="0.7"/>
<line x1="296.55" y1="131.1" x2="296.55" y2="133.10" stroke="#606060" stroke-width="0.7"/>
<line x1="169.0" y1="233.50" x2="171.00" y2="233.50" stroke="#606060" stroke-width="0.7"/>
<line x1="296.4" y1="233.50" x2="294.40" y2="233.50" stroke="#606060" stroke-width="0.7"/>
<line x1="169.0" y1="222.12" x2="170.20" y2="222.12" stroke="#606060" stroke-width="0.7"/>
<line x1="296.4" y1="222.12" x2="295.20" y2="222.12" stroke="#606060" stroke-width="0.7"/>
<line x1="169.0" y1="210.75" x2="171.00" y2="210.75" stroke="#606060" stroke-width="0.7"/>
<line x1="296.4" y1="210.75" x2="294.40" y2="210.75" stroke="#606060" stroke-width="0.7"/>
<line x1="169.0" y1="199.38" x2="170.20" y2="199.38" stroke="#606060" stroke-width="0.7"/>
<line x1="296.4" y1="199.38" x2="295.20" y2="199.38" stroke="#606060" stroke-width="0.7"/>
<line x1="169.0" y1="188.00" x2="171.00" y2="188.00" stroke="#606060" stroke-width="0.7"/>
<line x1="296.4" y1="188.00" x2="294.40" y2="188.00" stroke="#606060" stroke-width="0.7"/>
<line x1="169.0" y1="176.62" x2="170.20" y2="176.62" stroke="#606060" stroke-width="0.7"/>
<line x1="296.4" y1="176.62" x2="295.20" y2="176.62" stroke="#606060" stroke-width="0.7"/>
<line x1="169.0" y1="165.25" x2="171.00" y2="165.25" stroke="#606060" stroke-width="0.7"/>
<line x1="296.4" y1="165.25" x2="294.40" y2="165.25" stroke="#606060" stroke-width="0.7"/>
<line x1="169.0" y1="153.88" x2="170.20" y2="153.88" stroke="#606060" stroke-width="0.7"/>
<line x1="296.4" y1="153.88" x2="295.20" y2="153.88" stroke="#606060" stroke-width="0.7"/>
<line x1="169.0" y1="142.50" x2="171.00" y2="142.50" stroke="#606060" stroke-width="0.7"/>
<line x1="296.4" y1="142.50" x2="294.40" y2="142.50" stroke="#606060" stroke-width="0.7"/>
<line x1="169.0" y1="131.12" x2="170.20" y2="131.12" stroke="#606060" stroke-width="0.7"/>
<line x1="296.4" y1="131.12" x2="295.20" y2="131.12" stroke="#606060" stroke-width="0.7"/>
<text transform="translate(169.20 238.8) scale(1 1.06)" x="0" y="0" font-size="4.5" text-anchor="middle" fill="#444" stroke="#444" stroke-width="0.1">0.0</text>
<text transform="translate(190.42 238.8) scale(1 1.06)" x="0" y="0" font-size="4.5" text-anchor="middle" fill="#444" stroke="#444" stroke-width="0.1">0.5</text>
<text transform="translate(211.65 238.8) scale(1 1.06)" x="0" y="0" font-size="4.5" text-anchor="middle" fill="#444" stroke="#444" stroke-width="0.1">1.0</text>
<text transform="translate(232.88 238.8) scale(1 1.06)" x="0" y="0" font-size="4.5" text-anchor="middle" fill="#444" stroke="#444" stroke-width="0.1">1.5</text>
<text transform="translate(254.10 238.8) scale(1 1.06)" x="0" y="0" font-size="4.5" text-anchor="middle" fill="#444" stroke="#444" stroke-width="0.1">2.0</text>
<text transform="translate(275.32 238.8) scale(1 1.06)" x="0" y="0" font-size="4.5" text-anchor="middle" fill="#444" stroke="#444" stroke-width="0.1">2.5</text>
<text transform="translate(296.55 238.8) scale(1 1.06)" x="0" y="0" font-size="4.5" text-anchor="middle" fill="#444" stroke="#444" stroke-width="0.1">3.0</text>
<text transform="translate(163.6 235.30) scale(1 1.06)" x="0" y="0" font-size="4.5" text-anchor="middle" fill="#444" stroke="#444" stroke-width="0.1">0.0</text>
<text transform="translate(163.6 212.55) scale(1 1.06)" x="0" y="0" font-size="4.5" text-anchor="middle" fill="#444" stroke="#444" stroke-width="0.1">0.5</text>
<text transform="translate(163.6 189.80) scale(1 1.06)" x="0" y="0" font-size="4.5" text-anchor="middle" fill="#444" stroke="#444" stroke-width="0.1">1.0</text>
<text transform="translate(163.6 167.05) scale(1 1.06)" x="0" y="0" font-size="4.5" text-anchor="middle" fill="#444" stroke="#444" stroke-width="0.1">1.5</text>
<text transform="translate(163.6 144.30) scale(1 1.06)" x="0" y="0" font-size="4.5" text-anchor="middle" fill="#444" stroke="#444" stroke-width="0.1">2.0</text>
<line x1="220.14" y1="161" x2="220.14" y2="147.5" stroke="#111" stroke-width="0.7"/>
<polygon points="220.14,145.6 219.04,148.4 221.24,148.4" fill="#111"/>
<line x1="220.14" y1="178.0" x2="220.14" y2="197.5" stroke="#505050" stroke-width="0.8"/>
<text transform="translate(212.2 166.2) scale(1 1.06)" x="0" y="0" font-size="5.2" textLength="16.3" lengthAdjust="spacingAndGlyphs" fill="#222" stroke="#222" stroke-width="0.18">Increase</text>
<text transform="translate(217.9 171.0) scale(1 1.06)" x="0" y="0" font-size="5.2" textLength="4.3" lengthAdjust="spacingAndGlyphs" fill="#222" stroke="#222" stroke-width="0.18">of</text>
<text transform="translate(220.14 176.7) scale(1 1.06)" x="0" y="0" font-size="5.0" text-anchor="middle" fill="#222" stroke="#222" stroke-width="0.18">Γ</text>
<circle cx="186.10" cy="198.50" r="1.35" fill="#ff1010"/>
<circle cx="191.20" cy="168.10" r="1.35" fill="#ff1010"/>
<circle cx="202.80" cy="147.30" r="1.35" fill="#ff1010"/>
<circle cx="219.90" cy="141.90" r="1.35" fill="#ff1010"/>
<circle cx="186.00" cy="233.00" r="0.95" fill="#10108a"/>
<circle cx="203.00" cy="226.50" r="1.2" fill="#10108a"/>
<circle cx="219.90" cy="198.50" r="1.2" fill="#10108a"/>
<text transform="translate(207.5 154.3) scale(1 1.06)" x="0" y="0" font-size="5.2" text-anchor="middle" fill="#ff2020" stroke="#ff2020" stroke-width="0.24">B2</text>
<text transform="translate(224.6 148.2) scale(1 1.06)" x="0" y="0" font-size="5.2" text-anchor="middle" fill="#ff2020" stroke="#ff2020" stroke-width="0.24">C2</text>
<text transform="translate(197.8 174.9) scale(1 1.06)" x="0" y="0" font-size="5.2" text-anchor="middle" fill="#ff2020" stroke="#ff2020" stroke-width="0.24">D2</text>
<text transform="translate(190.9 204.0) scale(1 1.06)" x="0" y="0" font-size="5.2" text-anchor="middle" fill="#ff2020" stroke="#ff2020" stroke-width="0.24">A2</text>
<text transform="translate(169.4 161.9) scale(1 1.06)" x="0" y="0" font-size="4.7" fill="#ff2020" stroke="#ff2020" stroke-width="0.24">MOCATAXY</text>
<text transform="translate(184.3 231.3) scale(1 1.06)" x="0" y="0" font-size="5.2" text-anchor="middle" fill="#3a3ab0" stroke="#3a3ab0" stroke-width="0.24">A1</text>
<text transform="translate(199.0 225.0) scale(1 1.06)" x="0" y="0" font-size="5.2" text-anchor="middle" fill="#3a3ab0" stroke="#3a3ab0" stroke-width="0.24">B1</text>
<text transform="translate(215.8 197.1) scale(1 1.06)" x="0" y="0" font-size="5.2" text-anchor="middle" fill="#3a3ab0" stroke="#3a3ab0" stroke-width="0.24">C1</text>
<text transform="translate(257 162) scale(1 1.06)" x="0" y="0" font-size="4.8" text-anchor="middle" fill="#3a3ab0" stroke="#3a3ab0" stroke-width="0.24">MBE</text>
<text  x="149.4" y="132.0" font-size="7.8" font-weight="bold" fill="#222" stroke="#222" stroke-width="0.2">(b)</text>
<text transform="translate(201.2 248.3) scale(1 1.06)" x="0" y="0" font-size="6.3" font-weight="bold" fill="#111" stroke="#111" stroke-width="0.22">O-to-Ga flux ratio, <tspan font-style="italic">R</tspan><tspan font-size="3.9" dy="2.5" dx="0.3">O</tspan></text>
<text transform="translate(154.9,178.7) rotate(-90)" font-size="6.1" font-weight="bold" text-anchor="middle" fill="#111" stroke="#111" stroke-width="0.22">Growth rate, Γ (nm<tspan font-size="4.2" dy="-2.5">−2</tspan><tspan dy="2.5">s</tspan><tspan font-size="4.2" dy="-2.5">−1</tspan><tspan dy="2.5">)</tspan></text>
</svg>
</body></html>
